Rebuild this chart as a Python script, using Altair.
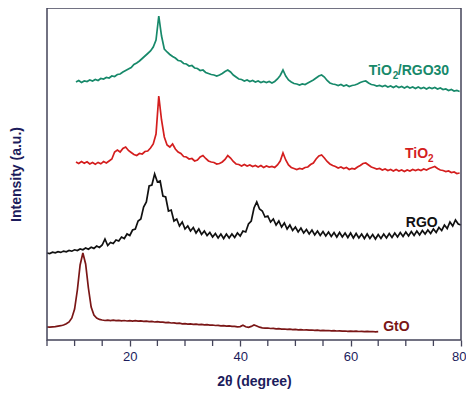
import altair as alt
import pandas as pd

# ---- data (intensity in arbitrary, offset units) ----
gto_start, gto_step = 5.0, 0.5
gto_y = [13.0, 12.8, 13.2, 13.4, 13.9, 14.3, 15.0, 16.2, 18.0, 22.0,
         31.0, 50.0, 75.0, 87.0, 76.0, 52.0, 33.0, 25.0, 22.0, 20.6,
         20.0, 19.5, 19.9, 19.4, 19.8, 19.3, 19.6, 19.2, 19.5, 19.0,
         19.4, 18.9, 19.3, 18.8, 19.1, 18.6, 18.9, 18.4, 18.6, 18.0,
         18.3, 17.8, 17.9, 17.3, 17.6, 17.0, 17.2, 16.6, 16.8, 16.2,
         16.4, 15.9, 16.1, 15.6, 15.8, 15.3, 15.6, 15.1, 15.3, 14.8,
         15.0, 14.5, 14.7, 14.2, 14.4, 13.9, 14.1, 13.6, 13.7, 13.2,
         13.4, 14.8, 13.2, 12.7, 13.6, 15.0, 14.0, 12.8, 12.2, 11.9,
         12.0, 11.5, 11.6, 11.2, 11.3, 10.9, 11.0, 10.6, 10.8, 10.4,
         10.6, 10.2, 10.4, 10.0, 10.2, 9.8, 10.0, 9.6, 9.8, 9.4,
         9.6, 9.3, 9.5, 9.1, 9.3, 9.0, 9.2, 8.8, 9.0, 8.7,
         8.9, 8.6, 8.8, 8.5, 8.7, 8.4, 8.6, 8.3, 8.5, 8.2, 8.4]

rgo_start, rgo_step = 5.0, 0.5
rgo_y = [87.0, 86.5, 87.8, 87.2, 88.3, 87.6, 88.9, 88.2, 89.5, 88.8,
         90.2, 89.4, 91.0, 90.2, 92.0, 90.8, 92.8, 91.6, 94.0, 92.6,
         95.0, 101.0, 94.5, 97.5, 96.5, 100.0, 99.0, 103.0, 101.5, 106.0,
         104.5, 110.0, 111.0, 119.0, 121.0, 133.0, 138.0, 154.0, 155.0, 166.0,
         158.0, 159.0, 144.0, 143.0, 129.0, 130.0, 119.0, 121.0, 114.0, 118.0,
         111.0, 114.0, 109.0, 112.5, 107.0, 111.0, 105.5, 109.0, 104.5, 107.5,
         103.0, 106.5, 102.0, 106.0, 101.5, 106.0, 102.0, 106.0, 102.5, 107.0,
         104.0, 109.0, 108.0, 116.0, 119.0, 132.0, 138.0, 131.0, 129.0, 123.0,
         124.0, 118.0, 121.0, 115.0, 119.0, 113.0, 117.0, 111.0, 115.0, 109.5,
         113.0, 108.0, 112.0, 107.0, 110.5, 106.0, 110.0, 105.0, 109.0, 104.5,
         108.5, 104.0, 108.0, 103.5, 107.5, 103.0, 107.5, 103.0, 107.0, 102.5,
         107.0, 102.0, 106.5, 102.0, 106.0, 101.5, 106.0, 101.5, 105.5, 101.0,
         105.5, 101.5, 106.0, 102.0, 106.5, 102.5, 107.0, 103.0, 107.5, 103.5,
         108.0, 104.0, 108.5, 104.5, 109.0, 105.0, 109.5, 106.0, 110.0, 106.5,
         111.0, 107.5, 112.5, 109.5, 115.0, 111.5, 118.0, 114.0, 120.0, 116.0,
         115.0]

tio2_start, tio2_step = 10.25, 0.5
tio2_y = [178.0, 176.5, 178.5, 176.8, 178.2, 176.0, 177.5, 175.8, 177.6, 176.2,
          178.4, 177.0, 179.0, 181.0, 188.0, 190.0, 188.0, 191.5, 193.0, 189.5,
          187.5, 185.5, 184.5, 186.5, 186.0, 188.5, 189.0, 192.0, 196.0, 206.0,
          244.0, 220.0, 203.0, 195.0, 193.0, 196.0, 191.0, 188.0, 186.5, 183.5,
          183.0, 181.0, 181.5, 179.0, 180.0, 183.0, 184.5, 181.5, 179.0, 178.0,
          177.5, 176.0, 176.5, 178.0, 180.5, 184.5, 182.0, 178.5, 176.0, 175.5,
          174.0, 175.5, 174.0, 175.0, 173.5, 174.5, 173.0, 174.5, 172.5, 174.0,
          173.0, 173.5, 172.5, 175.0, 179.0, 187.0, 180.0, 175.0, 172.5, 171.5,
          170.5, 171.5, 171.0, 172.5, 173.0, 175.5, 177.0, 181.0, 184.0, 185.0,
          182.0, 178.5, 176.0, 174.5, 173.5, 172.0, 173.0, 171.5, 172.5, 170.5,
          171.5, 171.0, 173.0, 174.5, 176.5, 177.0, 175.0, 173.0, 172.0, 171.0,
          171.5, 170.0, 171.0, 169.5, 170.5, 169.0, 170.5, 169.0, 170.0, 168.5,
          170.0, 169.0, 170.5, 169.5, 170.5, 169.5, 171.0, 170.0, 171.5, 172.5,
          173.5, 171.5, 170.0, 169.5, 168.5, 169.0, 167.5, 168.0, 166.5, 167.0]

comp_start, comp_step = 10.25, 0.5
comp_y = [258.0, 259.5, 257.5, 259.0, 258.5, 260.0, 259.0, 260.5, 259.5, 261.5,
          261.0, 262.5, 262.0, 264.0, 263.5, 265.5, 266.0, 268.0, 269.5, 271.0,
          272.5, 275.5, 277.0, 279.0, 281.5, 284.0, 286.5, 289.0, 293.0, 300.0,
          324.0, 304.0, 291.0, 288.0, 285.5, 283.5, 282.0, 279.5, 279.0, 276.5,
          276.0, 274.0, 274.5, 272.0, 271.5, 269.5, 270.0, 267.5, 266.5, 265.5,
          265.0, 264.0, 265.0, 266.5, 268.5, 270.0, 268.0, 265.0, 263.0, 261.0,
          260.5, 259.0, 260.0, 258.5, 259.5, 258.0, 259.0, 257.5, 258.5, 257.5,
          258.5, 257.0, 258.5, 261.0, 264.5, 270.0, 264.0, 260.0, 258.0, 256.5,
          256.0, 255.0, 256.0, 255.5, 257.0, 258.5, 260.0, 262.0, 264.0, 265.0,
          263.0, 259.5, 257.0, 256.0, 255.5, 254.5, 255.5, 254.0, 255.0, 253.5,
          254.5, 255.0, 256.0, 257.5, 258.5, 259.0, 257.0, 255.5, 255.0, 254.0,
          254.5, 253.5, 254.5, 253.0, 254.0, 252.5, 254.0, 252.5, 253.5, 252.0,
          253.5, 252.0, 253.0, 251.5, 253.0, 251.5, 252.5, 251.0, 252.5, 251.5,
          252.5, 251.0, 252.0, 250.5, 251.0, 249.5, 250.5, 249.0, 249.5, 248.5]

series_names = ["TiO2/RGO30", "TiO2", "RGO", "GtO"]
series_colors = ["#17896a", "#d41e1e", "#111111", "#7a1616"]
series_widths = [1.7, 1.7, 2.4, 1.5]

# label pieces: text, series, left x (data), baseline y (data), font size
piece_text = ["TiO", "2", "/RGO30", "TiO", "2", "RGO", "GtO"]
piece_series = ["TiO2/RGO30", "TiO2/RGO30", "TiO2/RGO30", "TiO2", "TiO2", "RGO", "GtO"]
piece_x = [63.3, 67.65, 68.55, 69.85, 74.0, 70.0, 65.9]
piece_y = [265.0, 261.5, 265.0, 182.0, 178.0, 113.0, 9.0]
piece_size = [14, 10, 14, 14, 10, 14, 14]

x_domain = [5, 80]
y_domain = [0, 332]
major_ticks = [20, 40, 60, 80]
minor_ticks = [5, 10, 15, 25, 30, 35, 45, 50, 55, 65, 70, 75]

# ---- build tables ----
rows = []
for name, start, step, ys in [("TiO2/RGO30", comp_start, comp_step, comp_y),
                              ("TiO2", tio2_start, tio2_step, tio2_y),
                              ("RGO", rgo_start, rgo_step, rgo_y),
                              ("GtO", gto_start, gto_step, gto_y)]:
    for i, v in enumerate(ys):
        rows.append({"series": name, "x": start + step * i, "y": v, "order": i})
df = pd.DataFrame(rows)

labels = pd.DataFrame({"series": piece_series, "text": piece_text,
                       "x": piece_x, "y": piece_y, "size": piece_size})
minor_df = pd.DataFrame({"x": minor_ticks})

navy = "#1c1c5c"
frame = "#44445a"

xscale = alt.Scale(domain=x_domain, nice=False, zero=False)
yscale = alt.Scale(domain=y_domain, nice=False, zero=False)
cscale = alt.Scale(domain=series_names, range=series_colors)
wscale = alt.Scale(domain=series_names, range=series_widths)

lines = alt.Chart(df).mark_line(interpolate="linear").encode(
    x=alt.X("x:Q", scale=xscale,
            axis=alt.Axis(values=major_ticks, title="2θ (degree)",
                          grid=False, domain=False, ticks=True, tickSize=6,
                          tickColor=frame, tickWidth=1.3,
                          labelFont="Liberation Sans", labelFontSize=13,
                          labelColor=navy, labelPadding=4,
                          labelFlush=True, labelFlushOffset=5,
                          titleFont="Liberation Sans", titleFontSize=14,
                          titleFontWeight="bold", titleColor=navy,
                          titlePadding=11)),
    y=alt.Y("y:Q", scale=yscale,
            axis=alt.Axis(title="Intensity (a.u.)", labels=False, ticks=False,
                          grid=False, domain=False,
                          titleFont="Liberation Sans", titleFontSize=14,
                          titleFontWeight="bold", titleColor=navy,
                          titlePadding=24)),
    color=alt.Color("series:N", scale=cscale, legend=None),
    strokeWidth=alt.StrokeWidth("series:N", scale=wscale, legend=None),
    order="order:Q",
)

minor = alt.Chart(minor_df).mark_rule(color=frame, strokeWidth=1.3).encode(
    x=alt.X("x:Q", scale=xscale),
    y=alt.value(332),
    y2=alt.value(338),
)

box = alt.Chart(pd.DataFrame({"a": [0]})).mark_rect(
    fill=None, stroke=frame, strokeWidth=1.5).encode(
    x=alt.datum(x_domain[0], scale=xscale),
    x2=alt.datum(x_domain[1]),
    y=alt.datum(y_domain[0], scale=yscale),
    y2=alt.datum(y_domain[1]),
)

texts = alt.Chart(labels).mark_text(font="Liberation Sans", fontWeight="bold",
                                    align="left", baseline="alphabetic").encode(
    x=alt.X("x:Q", scale=xscale),
    y=alt.Y("y:Q", scale=yscale),
    color=alt.Color("series:N", scale=cscale, legend=None),
    size=alt.Size("size:Q", scale=None, legend=None),
    text="text:N",
)

chart = alt.layer(lines, minor, box, texts).properties(
    width=414, height=332,
    background="white",
    autosize=alt.AutoSizeParams(type="none"),
    padding={"left": 39, "top": 0, "right": 5, "bottom": 50},
).configure_view(strokeWidth=0)

chart.save("out.html", embed_options={"renderer": "svg", "actions": False})
